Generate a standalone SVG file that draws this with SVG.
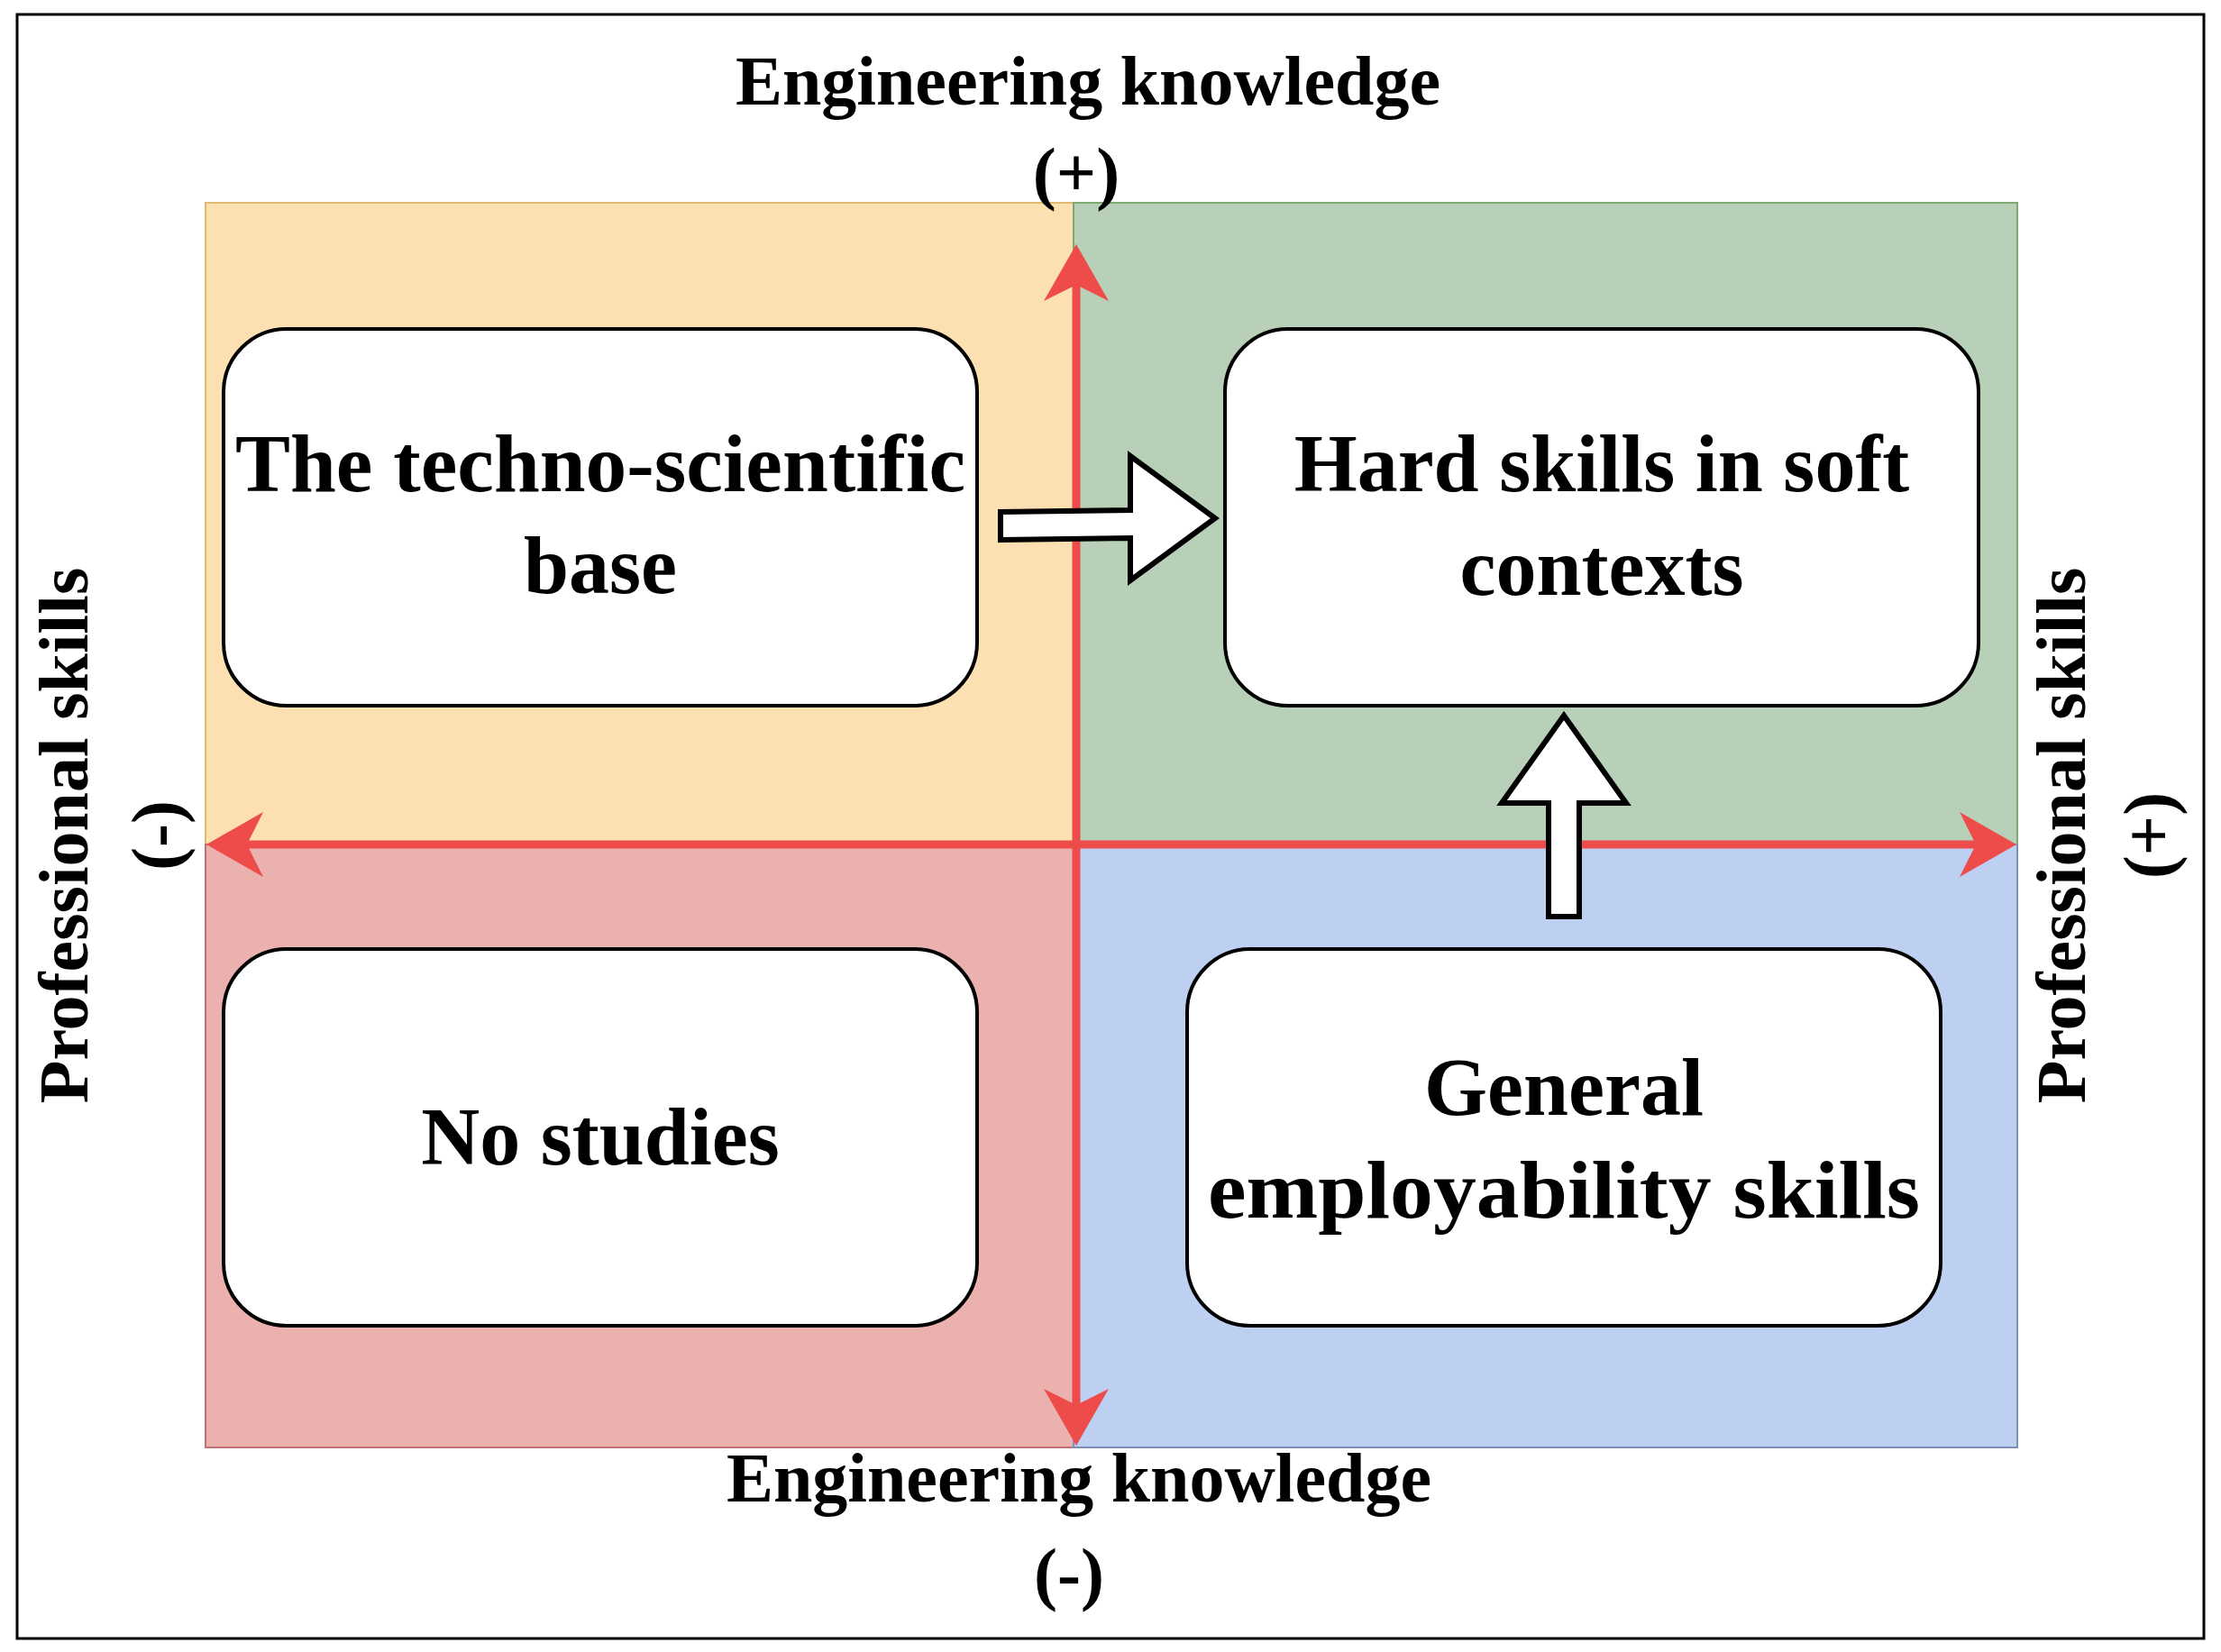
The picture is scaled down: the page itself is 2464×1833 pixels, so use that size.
<svg xmlns="http://www.w3.org/2000/svg" width="2464" height="1833" viewBox="0 0 2464 1833">
<style>
.box{fill:#fff;stroke:#000;stroke-width:4}
.t{font-family:"Liberation Serif",serif;font-weight:bold;text-anchor:middle;fill:#000}
.big{font-size:90px}
.lbl{font-size:78px}
.ax{stroke:#ee4b4b;stroke-width:9;fill:none}
.ba{fill:#fff;stroke:#000;stroke-width:6;stroke-linejoin:miter}
</style>
<defs>
<marker id="ah" markerWidth="8" markerHeight="8" refX="6" refY="4" orient="auto" markerUnits="strokeWidth">
<path d="M0,0 L7,4 L0,8 L2,4 Z" fill="#ee4b4b"/>
</marker>
</defs>
<rect width="2464" height="1833" fill="#fff"/>
<rect x="19" y="16" width="2426" height="1802" fill="none" stroke="#000" stroke-width="3"/>
<g id="quadrants">
<rect x="228" y="225" width="963" height="712" fill="#fde0b2" stroke="#e0b870" stroke-width="2"/>
<rect x="1191" y="225" width="1047" height="712" fill="#b8d0b8" stroke="#7da870" stroke-width="2"/>
<rect x="228" y="937" width="963" height="669" fill="#eab1af" stroke="#c07070" stroke-width="2"/>
<rect x="1191" y="937" width="1047" height="669" fill="#bdd0f2" stroke="#7d90b8" stroke-width="2"/>
</g>
<g id="connectors">
<line class="ax" x1="1194" y1="937" x2="1194" y2="280" marker-end="url(#ah)"/>
<line class="ax" x1="1194" y1="937" x2="1194" y2="1595" marker-end="url(#ah)"/>
<line class="ax" x1="1194" y1="937" x2="238" y2="937" marker-end="url(#ah)"/>
<line class="ax" x1="1194" y1="937" x2="2228" y2="937" marker-end="url(#ah)"/>
<path class="ba" d="M1110,568 L1254,566 L1254,506 L1348,575 L1254,644 L1254,597 L1110,599 Z"/>
<path class="ba" d="M1718,1017 L1718,891 L1666,891 L1735,794 L1804,891 L1752,891 L1752,1017 Z"/>
</g>
<g id="n1"><rect class="box" x="248" y="365" width="836" height="418" rx="70"/>
<text class="t big" x="666" y="545" textLength="810" lengthAdjust="spacingAndGlyphs">The techno-scientific</text><text class="t big" x="666" y="658">base</text></g>
<g id="n2"><rect class="box" x="1359" y="365" width="836" height="418" rx="70"/>
<text class="t big" x="1777" y="545">Hard skills in soft</text><text class="t big" x="1777" y="660">contexts</text></g>
<g id="n3"><rect class="box" x="248" y="1053" width="836" height="418" rx="70"/>
<text class="t big" x="666" y="1292">No studies</text></g>
<g id="n4"><rect class="box" x="1317" y="1053" width="836" height="418" rx="70"/>
<text class="t big" x="1735" y="1237">General</text><text class="t big" x="1735" y="1351" textLength="790" lengthAdjust="spacingAndGlyphs">employability skills</text></g>
<g id="labels">
<text class="t lbl" x="1207" y="116">Engineering knowledge</text>
<text class="t lbl" x="1194" y="218">(+)</text>
<text class="t lbl" x="1197" y="1666">Engineering knowledge</text>
<text class="t lbl" x="1186" y="1772">(-)</text>
<text class="t lbl" transform="translate(97,927) rotate(-90)">Professional skills</text>
<text class="t lbl" transform="translate(200,927) rotate(-90)">(-)</text>
<text class="t lbl" transform="translate(2313,927) rotate(-90)">Professional skills</text>
<text class="t lbl" transform="translate(2410,927) rotate(-90)">(+)</text>
</g>
</svg>
